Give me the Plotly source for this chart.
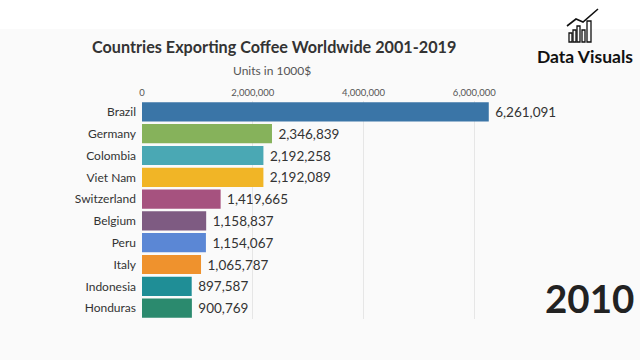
import plotly.graph_objects as go

countries = ["Brazil", "Germany", "Colombia", "Viet Nam", "Switzerland",
             "Belgium", "Peru", "Italy", "Indonesia", "Honduras"]
values = [6261091, 2346839, 2192258, 2192089, 1419665,
          1158837, 1154067, 1065787, 897587, 900769]
colors = ["#3a75a7", "#86b25b", "#4aa8b4", "#f1b526", "#a6527f",
          "#7e5b82", "#5b87d5", "#ef922d", "#1f8e96", "#2b8a6e"]
tick_vals = [0, 2000000, 4000000, 6000000]
tick_text = ["0", "2,000,000", "4,000,000", "6,000,000"]
year = "2010"

FONT = "Lato"
L, R, T, B = 142, 138, 101, 41
W, H = 640, 360

fig = go.Figure()
fig.add_trace(go.Bar(
    x=values, y=countries, orientation="h",
    marker=dict(color=colors, line=dict(width=0)),
    texttemplate="\u00a0%{x:,}", textposition="outside",
    textfont=dict(family=FONT, size=13.5, color="#333333"),
    cliponaxis=False, hoverinfo="skip",
))

fig.update_layout(
    width=W, height=H,
    margin=dict(l=L, r=R, t=T, b=B),
    paper_bgcolor="#fafafa", plot_bgcolor="#fafafa",
    bargap=0.12, showlegend=False,
    font=dict(family=FONT, color="#333333"),
    xaxis=dict(range=[0, 6500000], side="top", tickvals=tick_vals, ticktext=tick_text,
               tickfont=dict(family=FONT, size=9.5, color="#555555"),
               showgrid=True, gridcolor="#e6e6e6", gridwidth=1,
               zeroline=False, showline=False, ticks="", ticklabelstandoff=2),
    yaxis=dict(autorange="reversed", tickfont=dict(family=FONT, size=12, color="#333333"),
               showgrid=False, zeroline=False, showline=False, ticks="", ticklabelstandoff=5),
)


def px(x):
    return (x - L) / (W - L - R)


def py(y):
    return (H - B - y) / (H - T - B)


shapes = [
    dict(type="rect", xref="paper", yref="paper", x0=px(-5), x1=px(W + 5), y0=py(29), y1=py(-5),
         fillcolor="#ffffff", line=dict(width=0), layer="below"),
]

for x0, x1, y0 in [(569, 572, 33), (573, 576, 30), (577, 580, 26), (582, 585, 30), (587, 591, 21)]:
    shapes.append(dict(type="rect", xref="paper", yref="paper",
                       x0=px(x0), x1=px(x1), y0=py(42), y1=py(y0),
                       line=dict(color="#111111", width=1.3), fillcolor="rgba(0,0,0,0)"))
line_pts = [(567, 26), (576, 19), (583, 22), (598, 9)]
path = "M " + " L ".join(f"{px(x)},{py(y)}" for x, y in line_pts)
shapes.append(dict(type="path", xref="paper", yref="paper", path=path,
                   line=dict(color="#111111", width=1.6)))
fig.update_layout(shapes=shapes)

annotations = [
    dict(text="<b>Countries Exporting Coffee Worldwide 2001-2019</b>", x=px(274), y=py(46),
         font=dict(family=FONT, size=16.2, color="#333333")),
    dict(text="Units in 1000$", x=px(272), y=py(70),
         font=dict(family=FONT, size=12, color="#555555")),
    dict(text="<b>Data Visuals</b>", x=px(585), y=py(56),
         font=dict(family=FONT, size=17.5, color="#111111")),
    dict(text=f"<b>{year}</b>", x=px(589), y=py(298),
         font=dict(family=FONT, size=38.5, color="#222222")),
]
for a in annotations:
    a.update(xref="paper", yref="paper", showarrow=False, xanchor="center", yanchor="middle")
fig.update_layout(annotations=annotations)

fig.write_html("out.html", config={"displayModeBar": False},
               post_script="document.body.style.margin='0';document.body.style.overflow='hidden';")
